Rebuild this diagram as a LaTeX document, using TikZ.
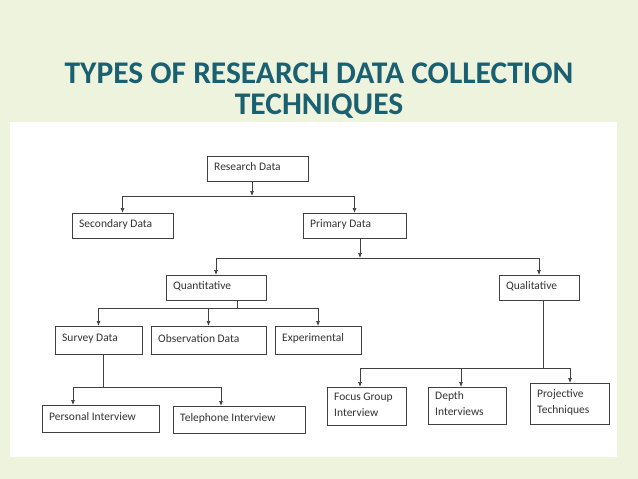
\documentclass[tikz,border=0pt]{standalone}
\usepackage{fontspec}
\setmainfont{Carlito}
\usetikzlibrary{arrows.meta}
\definecolor{bg}{HTML}{EEF3DE}
\definecolor{ttl}{HTML}{1A6070}
\begin{document}
\begin{tikzpicture}[x=1pt,y=-1pt,
  bx/.style={draw=black!75,line width=0.7pt,fill=white},
  ln/.style={draw=black!75,line width=0.7pt},
  ar/.style={ln,-{Latex[length=5pt,width=4pt]}}]
\fill[bg] (0,0) rectangle (638,479);
\useasboundingbox (0,0) rectangle (638,479);
\fill[white] (10,122) rectangle (617,457);
\node[text=ttl,font=\bfseries\fontsize{31.5}{31}\selectfont,align=center] (title) at (319,91) {TYPES OF RESEARCH DATA COLLECTION\\TECHNIQUES};
\newcommand{\bxn}[6]{\draw[bx] (#2,#3) rectangle (#4,#5);
  \node[anchor=west,align=left,font=\fontsize{11.5}{16}\selectfont,text=black!80,inner sep=0pt] (#1) at ({#2+7},{(#3+#5)/2-1.5}) {#6};
  \coordinate (#1t) at ({(#2+#4)/2},#3); \coordinate (#1b) at ({(#2+#4)/2},#5);}
\bxn{rd}{207}{156}{308}{181}{Research Data}
\bxn{sd}{72}{213}{173}{238}{Secondary Data}
\bxn{pd}{303}{213}{406}{238}{Primary Data}
\bxn{qn}{166}{275}{266}{300}{Quantitative}
\bxn{ql}{499}{275}{579}{300}{Qualitative}
\bxn{sv}{55}{326}{142}{354}{Survey Data}
\bxn{ob}{151}{326}{266}{354}{Observation Data}
\bxn{ex}{275}{326}{361}{354}{Experimental}
\bxn{pi}{42}{405}{159}{432}{Personal Interview}
\bxn{ti}{173}{406}{305}{433}{Telephone Interview}
\bxn{fg}{327}{387}{406}{425}{Focus Group\\Interview}
\bxn{di}{428}{387}{506}{424}{Depth\\Interviews}
\bxn{pt}{530}{383}{609}{424}{Projective\\Techniques}
% research
\coordinate (b1) at (252,196);
\draw[ar] (252,181) -- (b1);
\draw[ln] (sdt|-b1) -- (pdt|-b1);
\draw[ar] (sdt|-b1) -- (sdt);
\draw[ar] (pdt|-b1) -- (pdt);
% primary
\coordinate (b2) at (360,258);
\draw[ar] (360,238) -- (b2);
\draw[ln] (qnt|-b2) -- (qlt|-b2);
\draw[ar] (qnt|-b2) -- (qnt);
\draw[ar] (qlt|-b2) -- (qlt);
% quantitative
\coordinate (b3) at (237,308);
\draw[ln] (237,300) -- (b3);
\draw[ln] (svt|-b3) -- (ext|-b3);
\draw[ar] (svt|-b3) -- (svt);
\draw[ar] (obt|-b3) -- (obt);
\draw[ar] (ext|-b3) -- (ext);
% survey
\coordinate (b4) at (103,387);
\draw[ln] (103,354) -- (b4);
\draw[ln] (73,387) -- (221,387);
\draw[ar] (73,387) -- (73,405);
\draw[ar] (221,387) -- (221,406);
% qualitative
\coordinate (b5) at (543,368);
\draw[ln] (543,300) -- (b5);
\draw[ln] (360,368) -- (570,368);
\draw[ar] (360,368) -- (360,387);
\draw[ar] (461,368) -- (461,387);
\draw[ar] (570,368) -- (570,383);
\end{tikzpicture}
\end{document}
